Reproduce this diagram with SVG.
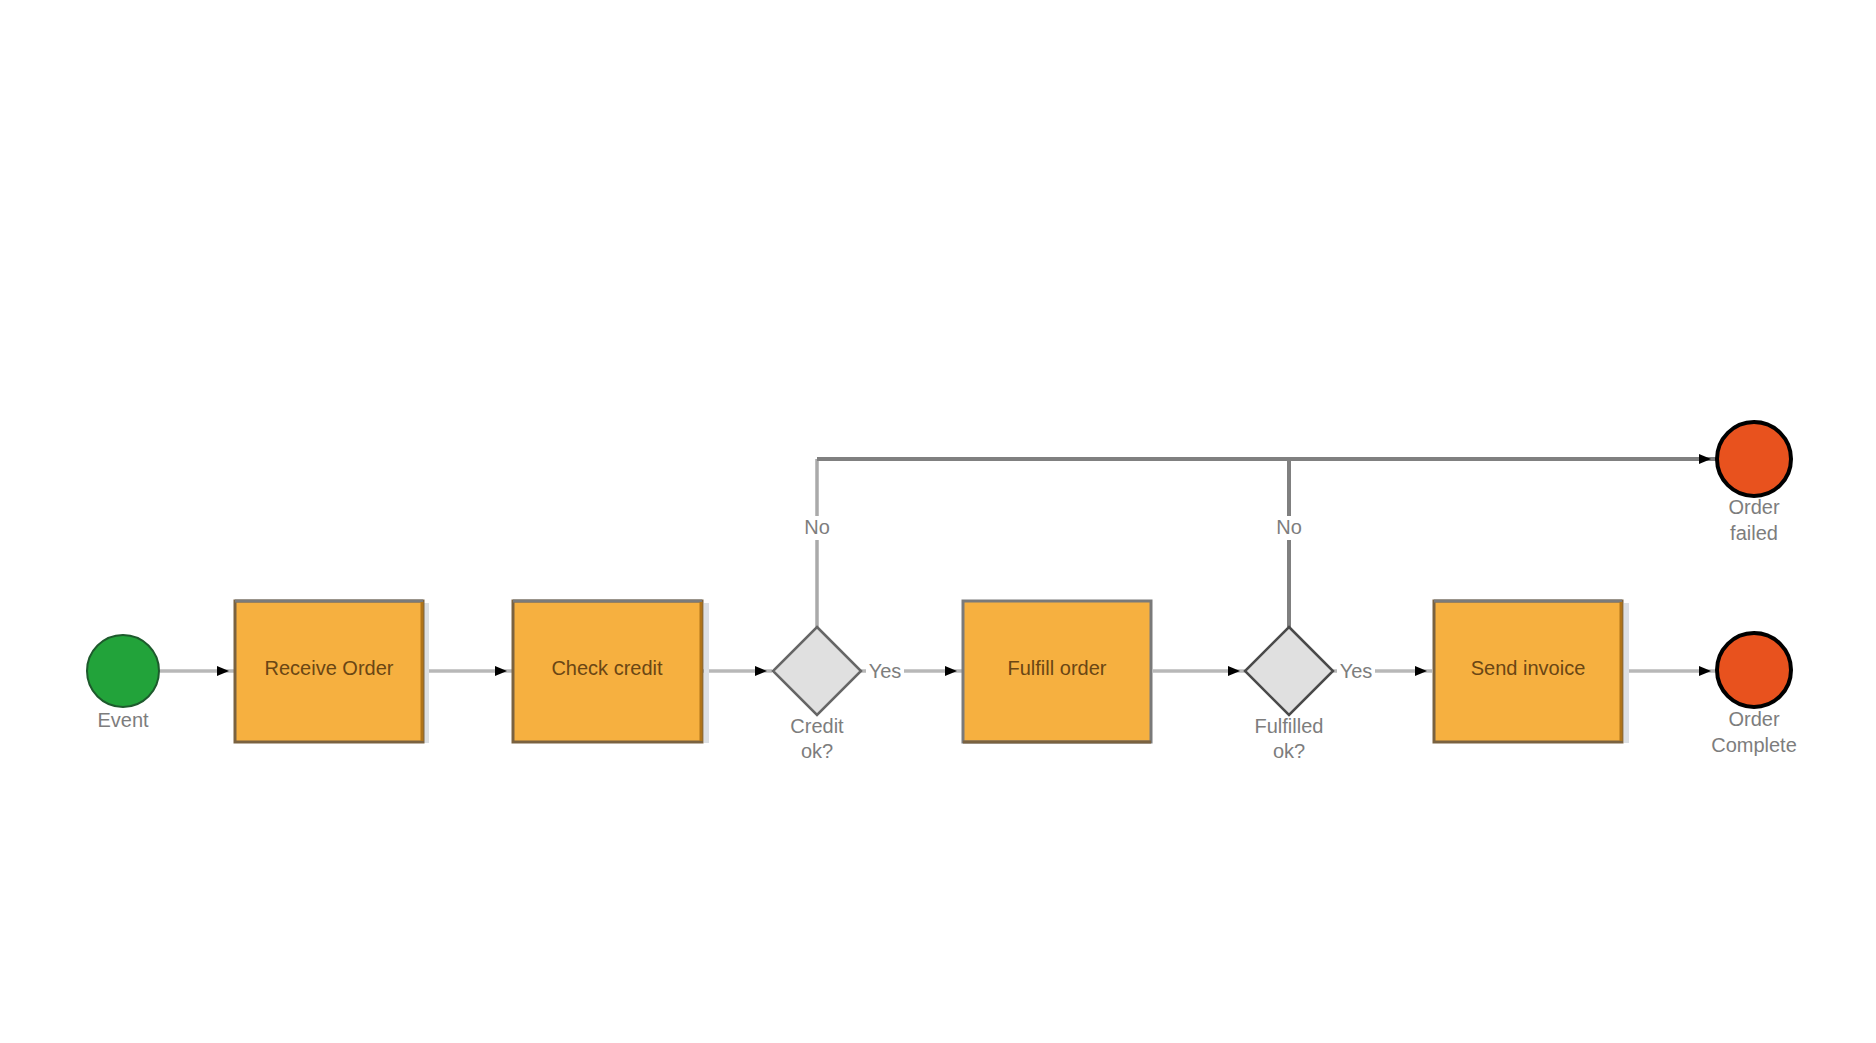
<svg xmlns="http://www.w3.org/2000/svg" width="1876" height="1043" viewBox="0 0 1876 1043">
  <defs>
    <style>
      .task { fill: #F6B040; stroke: #7a6240; stroke-width: 3; }
      .shadow { fill: #dde0e3; }
      .edgeTop { stroke: #7b7b7b; stroke-width: 3; }
      .edgeRight { stroke: #b07418; stroke-width: 3; }
      .taskText { font-family: "Liberation Sans", Arial, sans-serif; font-size: 20px; fill: #6a4614; text-anchor: middle; }
      .label { font-family: "Liberation Sans", Arial, sans-serif; font-size: 20px; fill: #7d7d7d; text-anchor: middle; }
      .gateway { fill: #e0e0e0; stroke: #666666; stroke-width: 2.5; }
      .start { fill: #22A33A; stroke: #1d5a2c; stroke-width: 2; }
      .end { fill: #E8521E; stroke: #000000; stroke-width: 4; }
      .flow { fill: none; stroke: #b8b8b8; stroke-width: 3.5; }
      .flowDark { fill: none; stroke: #808080; stroke-width: 4; }
      .flowMid { fill: none; stroke: #aaaaaa; stroke-width: 3.5; }
      .labelBg { fill: #ffffff; }
    </style>
    <marker id="arrow" viewBox="0 0 12 10" markerWidth="12" markerHeight="10" refX="17" refY="5" orient="auto" markerUnits="userSpaceOnUse">
      <path d="M0,0 L12,5 L0,10 z" fill="#000000"/>
    </marker>
  </defs>
  <rect width="1876" height="1043" fill="#ffffff"/>

  <g id="connectors">
    <path class="flow" d="M160 671 H234" marker-end="url(#arrow)"/>
    <path class="flow" d="M424 671 H512" marker-end="url(#arrow)"/>
    <path class="flow" d="M703 671 H772" marker-end="url(#arrow)"/>
    <path class="flow" d="M861 671 H962" marker-end="url(#arrow)"/>
    <path class="flowMid" d="M817 627 V459"/>
    <path class="flowDark" d="M817 459 H1716" marker-end="url(#arrow)"/>
    <path class="flow" d="M1153 671 H1245" marker-end="url(#arrow)"/>
    <path class="flowDark" d="M1289 627 V459"/>
    <path class="flow" d="M1333 671 H1432" marker-end="url(#arrow)"/>
    <path class="flow" d="M1624 671 H1716" marker-end="url(#arrow)"/>
    <g id="connector-labels">
      <rect class="labelBg" x="803" y="516" width="28" height="24"/>
      <text class="label" x="817" y="534">No</text>
      <rect class="labelBg" x="1275" y="516" width="28" height="24"/>
      <text class="label" x="1289" y="534">No</text>
      <rect class="labelBg" x="866" y="660" width="38" height="22"/>
      <text class="label" x="885" y="678">Yes</text>
      <rect class="labelBg" x="1337" y="660" width="38" height="22"/>
      <text class="label" x="1356" y="678">Yes</text>
    </g>
  </g>

  <g id="start-event">
    <circle class="start" cx="123" cy="671" r="36"/>
    <text class="label" x="123" y="727">Event</text>
  </g>

  <g id="receive-order">
    <rect class="shadow" x="424" y="603" width="5" height="140"/>
    <rect class="task" x="235" y="601" width="188" height="141"/>
    <line class="edgeTop" x1="235" y1="601" x2="423" y2="601"/>
    <line class="edgeRight" x1="422" y1="602" x2="422" y2="741"/>
    <text class="taskText" x="329" y="675">Receive Order</text>
  </g>

  <g id="check-credit">
    <rect class="shadow" x="704" y="603" width="5" height="140"/>
    <rect class="task" x="513" y="601" width="189" height="141"/>
    <line class="edgeTop" x1="513" y1="601" x2="702" y2="601"/>
    <line class="edgeRight" x1="701" y1="602" x2="701" y2="741"/>
    <text class="taskText" x="607" y="675">Check credit</text>
  </g>

  <g id="credit-ok">
    <path class="gateway" d="M817 627 L861 671 L817 715 L773 671 Z"/>
    <text class="label" x="817" y="733">Credit</text>
    <text class="label" x="817" y="758">ok?</text>
  </g>

  <g id="fulfill-order">
    <rect class="task" x="963" y="601" width="188" height="141" style="stroke:#7a7a7a"/>
    <line x1="963" y1="742" x2="1151" y2="742" stroke="#7a6240" stroke-width="3"/>
    <text class="taskText" x="1057" y="675">Fulfill order</text>
  </g>

  <g id="fulfilled-ok">
    <path class="gateway" d="M1289 627 L1333 671 L1289 715 L1245 671 Z" style="stroke:#4a4a4a"/>
    <text class="label" x="1289" y="733">Fulfilled</text>
    <text class="label" x="1289" y="758">ok?</text>
  </g>

  <g id="send-invoice">
    <rect class="shadow" x="1624" y="603" width="5" height="140"/>
    <rect class="task" x="1434" y="601" width="188" height="141"/>
    <line class="edgeTop" x1="1434" y1="601" x2="1622" y2="601"/>
    <line class="edgeRight" x1="1621" y1="602" x2="1621" y2="741"/>
    <text class="taskText" x="1528" y="675">Send invoice</text>
  </g>

  <g id="order-failed">
    <circle class="end" cx="1754" cy="459" r="37"/>
    <text class="label" x="1754" y="514">Order</text>
    <text class="label" x="1754" y="540">failed</text>
  </g>

  <g id="order-complete">
    <circle class="end" cx="1754" cy="670" r="37"/>
    <text class="label" x="1754" y="726">Order</text>
    <text class="label" x="1754" y="752">Complete</text>
  </g>
</svg>
